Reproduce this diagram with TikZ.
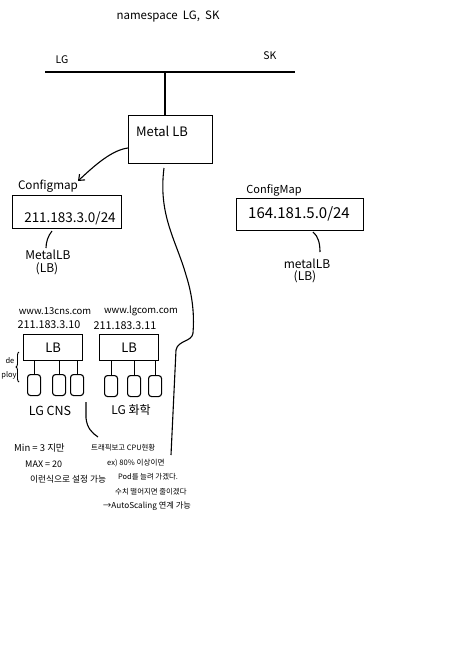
\documentclass[tikz,border=0pt]{standalone}
\usepackage{fontspec}
\setmainfont{Noto Sans CJK KR}
\usetikzlibrary{arrows.meta,decorations.pathreplacing}
\newcommand{\fs}[1]{\fontsize{#1}{#1}\selectfont}
\begin{document}
\begin{tikzpicture}[x=1pt,y=-1pt,
  ln/.style={line width=1.1pt,black},
  box/.style={draw,line width=1.1pt,inner sep=0pt,anchor=north west},
  pod/.style={draw,line width=1.1pt,rounded corners=3pt,minimum width=13pt,minimum height=21pt,inner sep=0pt,anchor=north west},
  lbl/.style={inner sep=0pt,font=\fs{9}}]
\fill[white] (0,0) rectangle (474,670);
\useasboundingbox (0,0) rectangle (474,670);

% title
\node[lbl,font=\fs{11.5}] (title) at (168,17) {namespace\ \ LG,\ \ SK};

% namespace bar
\coordinate (barL) at (45,72);
\coordinate (barR) at (295,72);
\draw[ln] (barL) -- (barR);
\node[lbl,font=\fs{10.5}] (lg) at (62,60) {LG};
\node[lbl,font=\fs{10.5}] (sk) at (270,56) {SK};
\coordinate (barM) at (165,72);

% Metal LB
\node[box,minimum width=84pt,minimum height=48pt] (mlb) at (128,115) {};
\node[lbl,font=\fs{13}] (mlbt) at (162,131) {Metal LB};
\draw[ln] (barM) -- (mlb.north -| barM);

% left configmap
\node[lbl,font=\fs{11.7}] (cm1l) at (48,186) {Configmap};
\node[box,minimum width=109pt,minimum height=33pt] (cm1) at (12,195) {};
\node[lbl,font=\fs{13.5}] (cm1t) at (70,218) {211.183.3.0/24};
\draw[ln,-{Straight Barb[length=5pt,width=8pt]}] (mlb.west |- 0,148) .. controls (112,150) and (95,165) .. (78,181);
\coordinate (c1s) at (52,231);
\coordinate (c1e) at (46,248);
\draw[ln] (c1s) .. controls (48,236) and (46,242) .. (c1e);
\node[lbl,font=\fs{12}] (ml1) at (48,255) {MetalLB};
\node[lbl,font=\fs{12}] (ml1b) at (47,269) {(LB)};

% right configmap
\node[lbl,font=\fs{11}] (cm2l) at (274,190) {ConfigMap};
\node[box,minimum width=127pt,minimum height=32pt] (cm2) at (236,198) {};
\node[lbl,font=\fs{15}] (cm2t) at (299,214) {164.181.5.0/24};
\coordinate (c2s) at (313,232);
\coordinate (c2e) at (320,252);
\draw[ln] (c2s) .. controls (318,236) and (320,243) .. (c2e);
\node[lbl,font=\fs{12}] (ml2) at (307,264) {metalLB};
\node[lbl,font=\fs{12}] (ml2b) at (305,277) {(LB)};

% long curve
\coordinate (lcs) at (164,168);
\coordinate (lce) at (171,455);
\draw[ln] (lcs) .. controls (158,215) and (176,240) .. (186,275)
  .. controls (194,300) and (194,320) .. (193,333)
  .. controls (192,342) and (178,340) .. (176,350)
  -- (lce);

% LB boxes
\node[lbl,font=\fs{9.5}] (w1) at (55,311) {www.13cns.com};
\node[lbl,font=\fs{10.8}] (ip1) at (49,325) {211.183.3.10};
\node[box,minimum width=59pt,minimum height=26pt] (lb1) at (23,334) {};
\node[lbl,font=\fs{13}] (lb1t) at (lb1.center) {LB};

\node[lbl,font=\fs{9.5}] (w2) at (141,311) {www.lgcom.com};
\node[lbl,font=\fs{10.8}] (ip2) at (125,326) {211.183.3.11};
\node[box,minimum width=59pt,minimum height=26pt] (lb2) at (99,334) {};
\node[lbl,font=\fs{13}] (lb2t) at (lb2.center) {LB};

% pods
\node[pod] (p1) at (27,374) {};
\node[pod] (p2) at (52,374) {};
\node[pod] (p3) at (70,374) {};
\node[pod] (p4) at (104,375) {};
\node[pod] (p5) at (127,375) {};
\node[pod] (p6) at (148,375) {};
\foreach \p in {p1,p2,p3,p4,p5,p6}{
  \draw[ln] (\p.north) -- (\p.north |- lb1.south);
}

% deploy brace
\draw[line width=0.9pt,decorate,decoration={brace,amplitude=3pt}] (19,382) -- (19,352);
\node[lbl,font=\fs{7.5}] (de) at (10,361) {de};
\node[lbl,font=\fs{7.5}] (ploy) at (9,375) {ploy};

\node[lbl,font=\fs{12.5}] (cns) at (50,411) {LG\ CNS};
\node[lbl,font=\fs{12}] (hwa) at (131,410) {LG\ 화학};

% small curve
\coordinate (scs) at (86,402);
\coordinate (sce) at (98,437);
\draw[ln] (scs) -- (86,418) .. controls (87,428) and (92,433) .. (sce);

% left notes
\node[lbl,font=\fs{9.5},anchor=west] (n1) at (14,448) {Min = 3 지만};
\node[lbl,font=\fs{9},anchor=west] (n2) at (25,464) {MAX = 20};
\node[lbl,font=\fs{8.7},anchor=west] (n3) at (30,479) {이런식으로 설정 가능};

% right notes
\node[lbl,font=\fs{7.4},anchor=west] (r1) at (91,448) {트래픽보고 CPU현황};
\node[lbl,font=\fs{7.6},anchor=west] (r2) at (107,463) {ex) 80\% 이상이면};
\node[lbl,font=\fs{7.4},anchor=west] (r3) at (118,477) {Pod를 늘려 가겠다.};
\node[lbl,font=\fs{7.4},anchor=west] (r4) at (115,492) {수치 떨어지면 줄이겠다};
\node[lbl,font=\fs{8.2},anchor=west] (r5) at (103,506) {→AutoScaling 연계 가능};
\end{tikzpicture}
\end{document}
